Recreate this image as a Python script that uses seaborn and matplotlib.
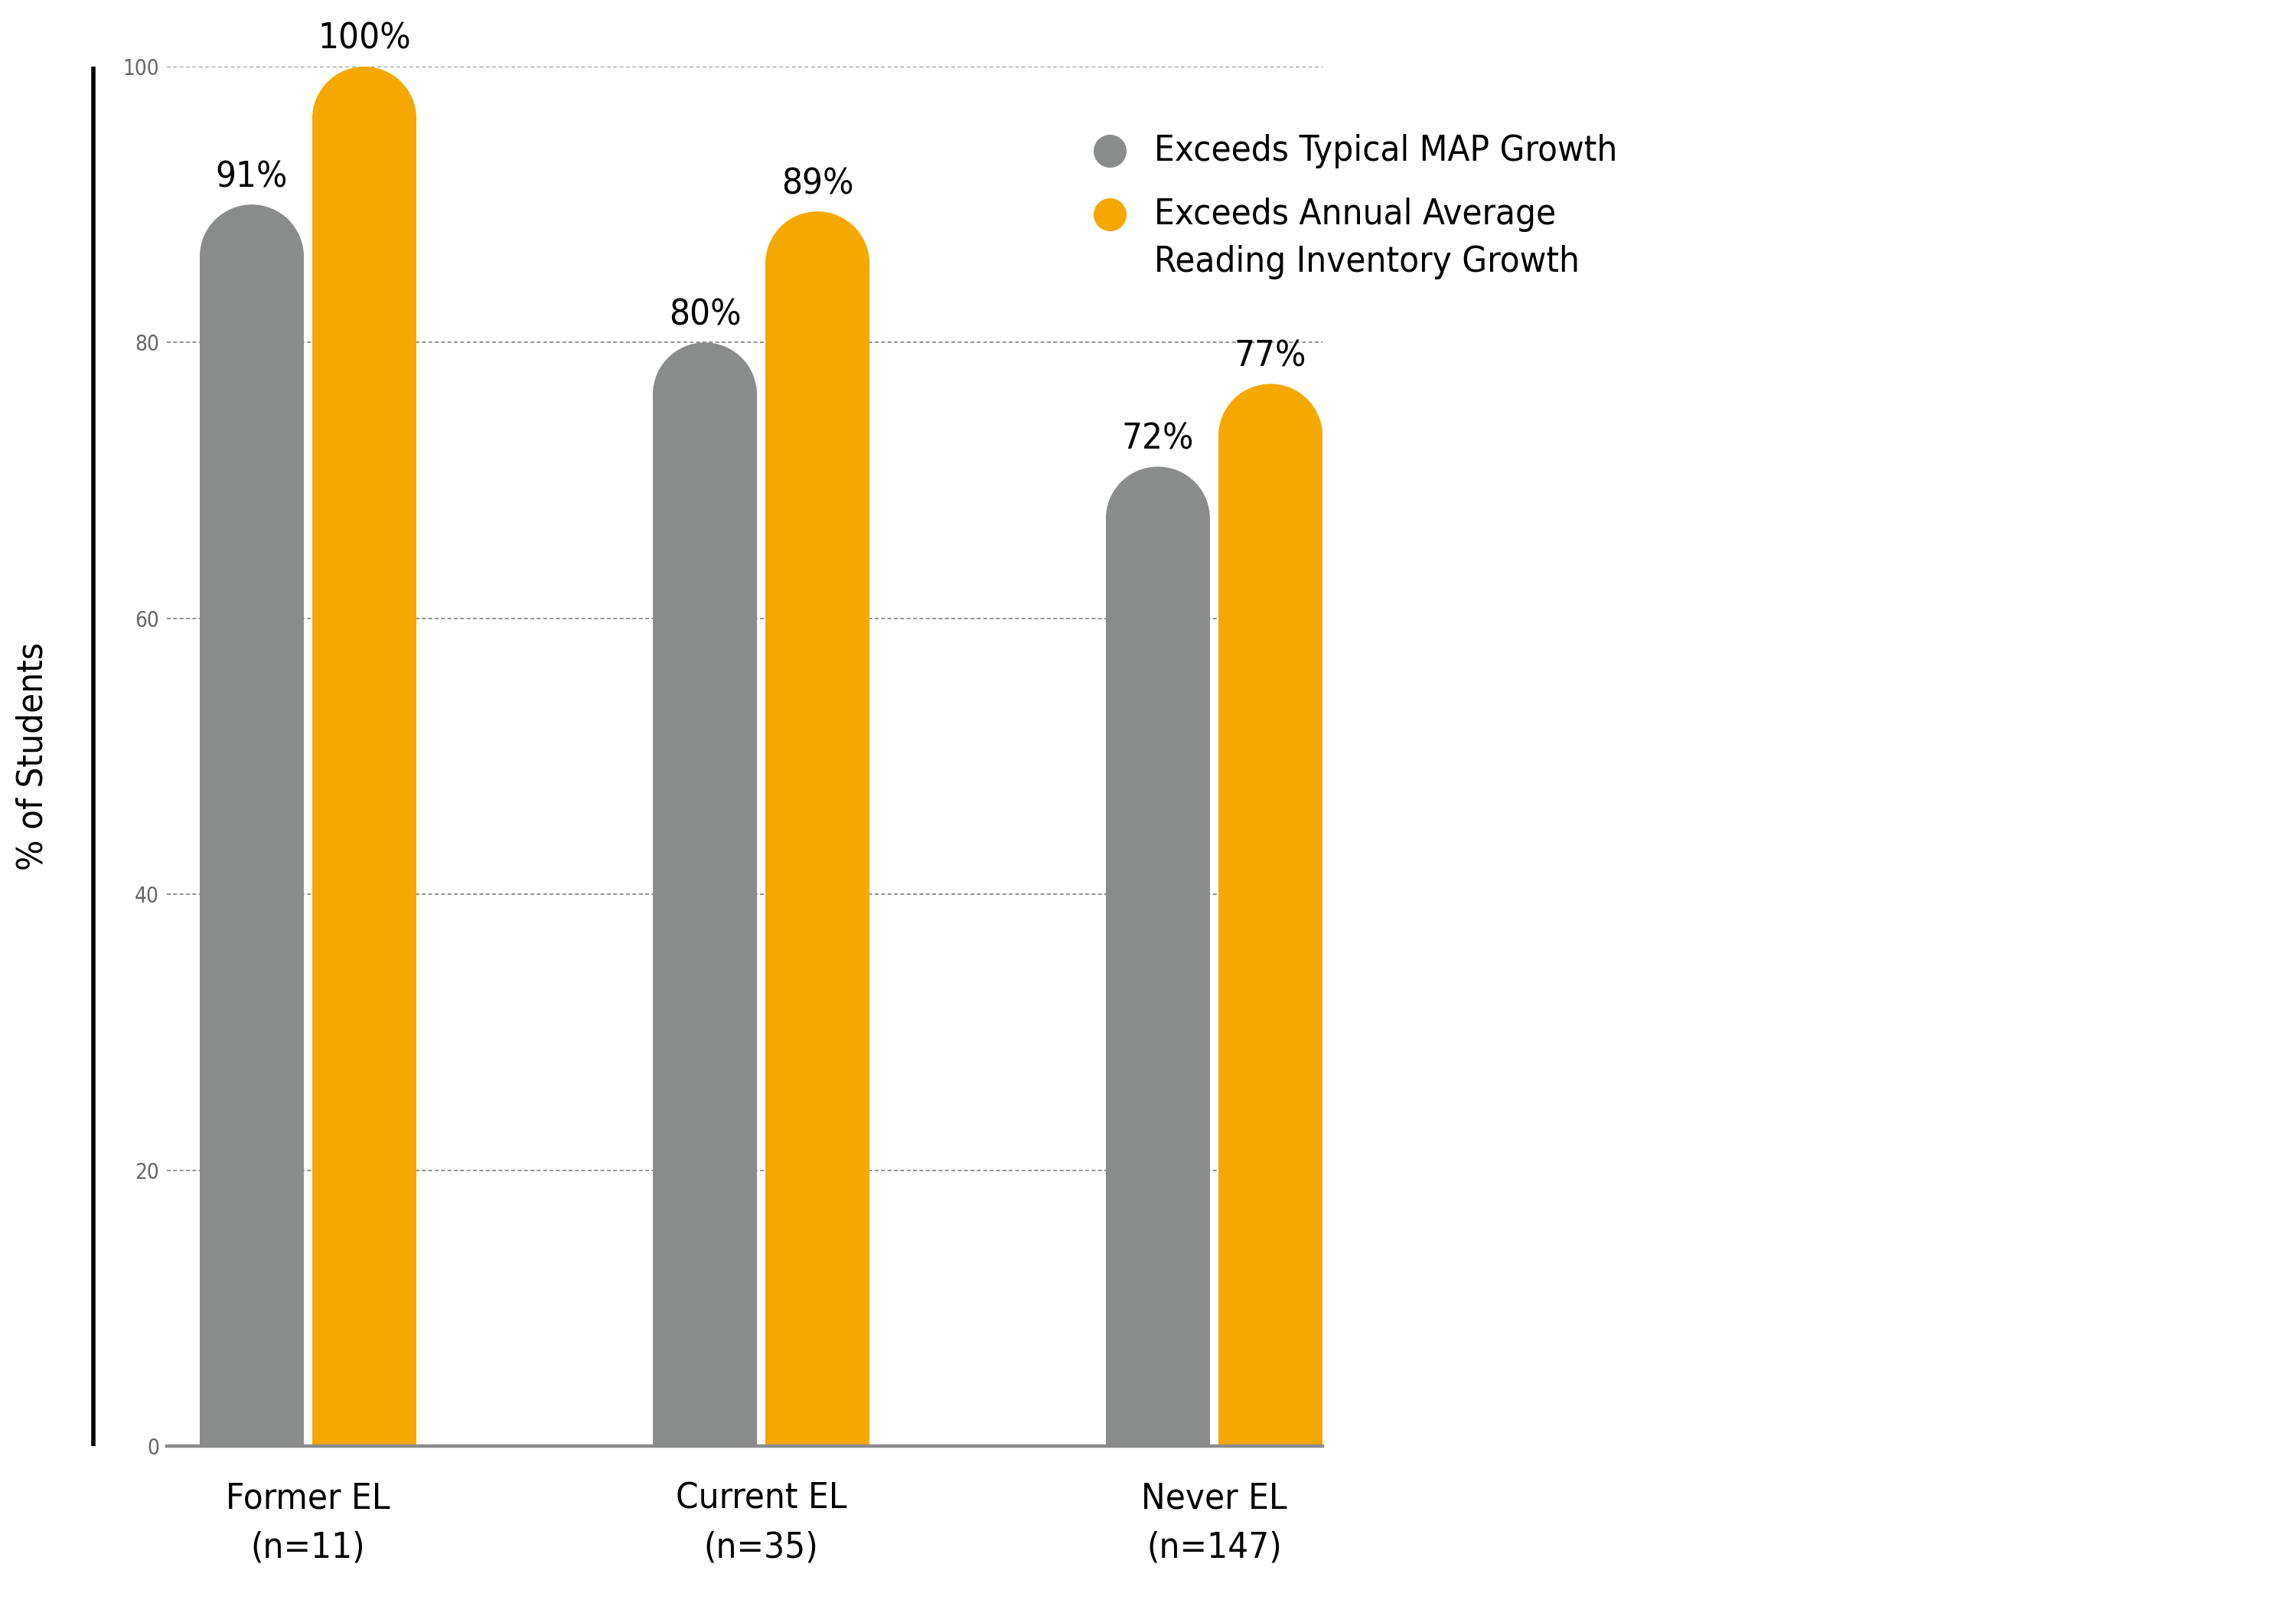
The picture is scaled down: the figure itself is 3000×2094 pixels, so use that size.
import matplotlib
matplotlib.use("Agg")
import matplotlib.pyplot as plt
from matplotlib.patches import Ellipse
from matplotlib.lines import Line2D
import seaborn as sns
import pandas as pd

# data
groups = ["Former EL", "Current EL", "Never EL"]
group_n = ["(n=11)", "(n=35)", "(n=147)"]
series = ["Exceeds Typical MAP Growth", "Exceeds Annual Average\nReading Inventory Growth"]
# bar heights as drawn, and the printed labels
map_growth = [90, 80, 71]
reading_growth = [100, 89.5, 77]
map_labels = ["91%", "80%", "72%"]
reading_labels = ["100%", "89%", "77%"]
yticks = [0, 20, 40, 60, 80, 100]

gray = "#8A8C8C"
orange = "#F5A800"
W, H = 3000, 2094  # output size in px

sns.set_theme(style="white")
plt.rcParams['font.family'] = ['Liberation Sans Narrow', 'DejaVu Sans']
plt.rcParams['font.stretch'] = 'condensed'

df = pd.DataFrame({
    "group": groups * 2,
    "series": [series[0]] * 3 + [series[1]] * 3,
    "value": map_growth + reading_growth,
})

fig = plt.figure(figsize=(15, 10.47), dpi=200)
ax = fig.add_axes([218 / W, 1 - 1889 / H, 1510 / W, (1889 - 87) / H])

sns.barplot(data=df, x="group", y="value", hue="series", order=groups, hue_order=series,
            palette=[gray, orange], width=0.497, gap=0.075, legend=False, ax=ax,
            saturation=1, linewidth=0, zorder=3)

ax.set_xlim(-0.3117, 2.239)
ax.set_ylim(0, 100)

# rounded tops: shorten each bar by the cap radius and put a half-ellipse on top
fig.canvas.draw()
x0, y0 = ax.transData.transform((0, 0))
x1, y1 = ax.transData.transform((1, 1))
px_x = x1 - x0
px_y = y1 - y0
bars = sorted(ax.patches, key=lambda p: p.get_x())
labels = [lab for pair in zip(map_labels, reading_labels) for lab in pair]
for bar, lab in zip(bars, labels):
    w = bar.get_width()
    h = bar.get_height()
    r_y = (w * px_x / 2) / px_y
    bar.set_height(h - r_y)
    cx = bar.get_x() + w / 2
    cap = Ellipse((cx, h - r_y), w, 2 * r_y, facecolor=bar.get_facecolor(),
                  edgecolor="none", linewidth=0, zorder=3)
    ax.add_patch(cap)
    ax.annotate(lab, (cx, h), xytext=(0, 8.3), textcoords="offset points",
                ha="center", va="baseline", fontsize=17, color="black")

# grid and axes styling
ax.set_yticks(yticks)
ax.yaxis.grid(True, linestyle=(0, (3, 2)), color="#808080", linewidth=0.6, zorder=0)
ax.xaxis.grid(False)
for s in ["left", "right", "top"]:
    ax.spines[s].set_visible(False)
ax.spines["bottom"].set_color("#8a8a8a")
ax.spines["bottom"].set_linewidth(1.6)
ax.spines["bottom"].set_zorder(4)

ax.tick_params(axis="y", length=0, pad=3.6, labelsize=10, labelcolor="#666666")
ax.tick_params(axis="x", length=0, pad=16.8, labelsize=17, labelcolor="black")
ax.set_xticks(range(len(groups)))
ax.set_xticklabels([f"{g}\n{n}" for g, n in zip(groups, group_n)], linespacing=1.55)

ax.set_xlabel("")
ax.set_ylabel("% of Students", fontsize=17, color="black")
ax.yaxis.set_label_coords(-0.1007, 0.5)

# black vertical rule left of the tick labels
ax.plot([-0.0636, -0.0636], [0, 1], transform=ax.transAxes, color="black",
        linewidth=2, clip_on=False, solid_capstyle="butt")

# legend: dots plus text lines placed like the reference
marker_y = [197, 280]
text_rows = [[210], [293, 355]]
for color, name, my, rows in zip([gray, orange], series, marker_y, text_rows):
    fig.add_artist(Line2D([1450 / W], [1 - my / H], transform=fig.transFigure,
                          marker="o", linestyle="none", markersize=15.5,
                          markerfacecolor=color, markeredgecolor="none"))
    for line, ty in zip(name.split("\n"), rows):
        fig.text(1508 / W, 1 - ty / H, line, ha="left", va="baseline",
                 fontsize=17, color="black")

fig.savefig("out.png", dpi=200)
plt.close(fig)
